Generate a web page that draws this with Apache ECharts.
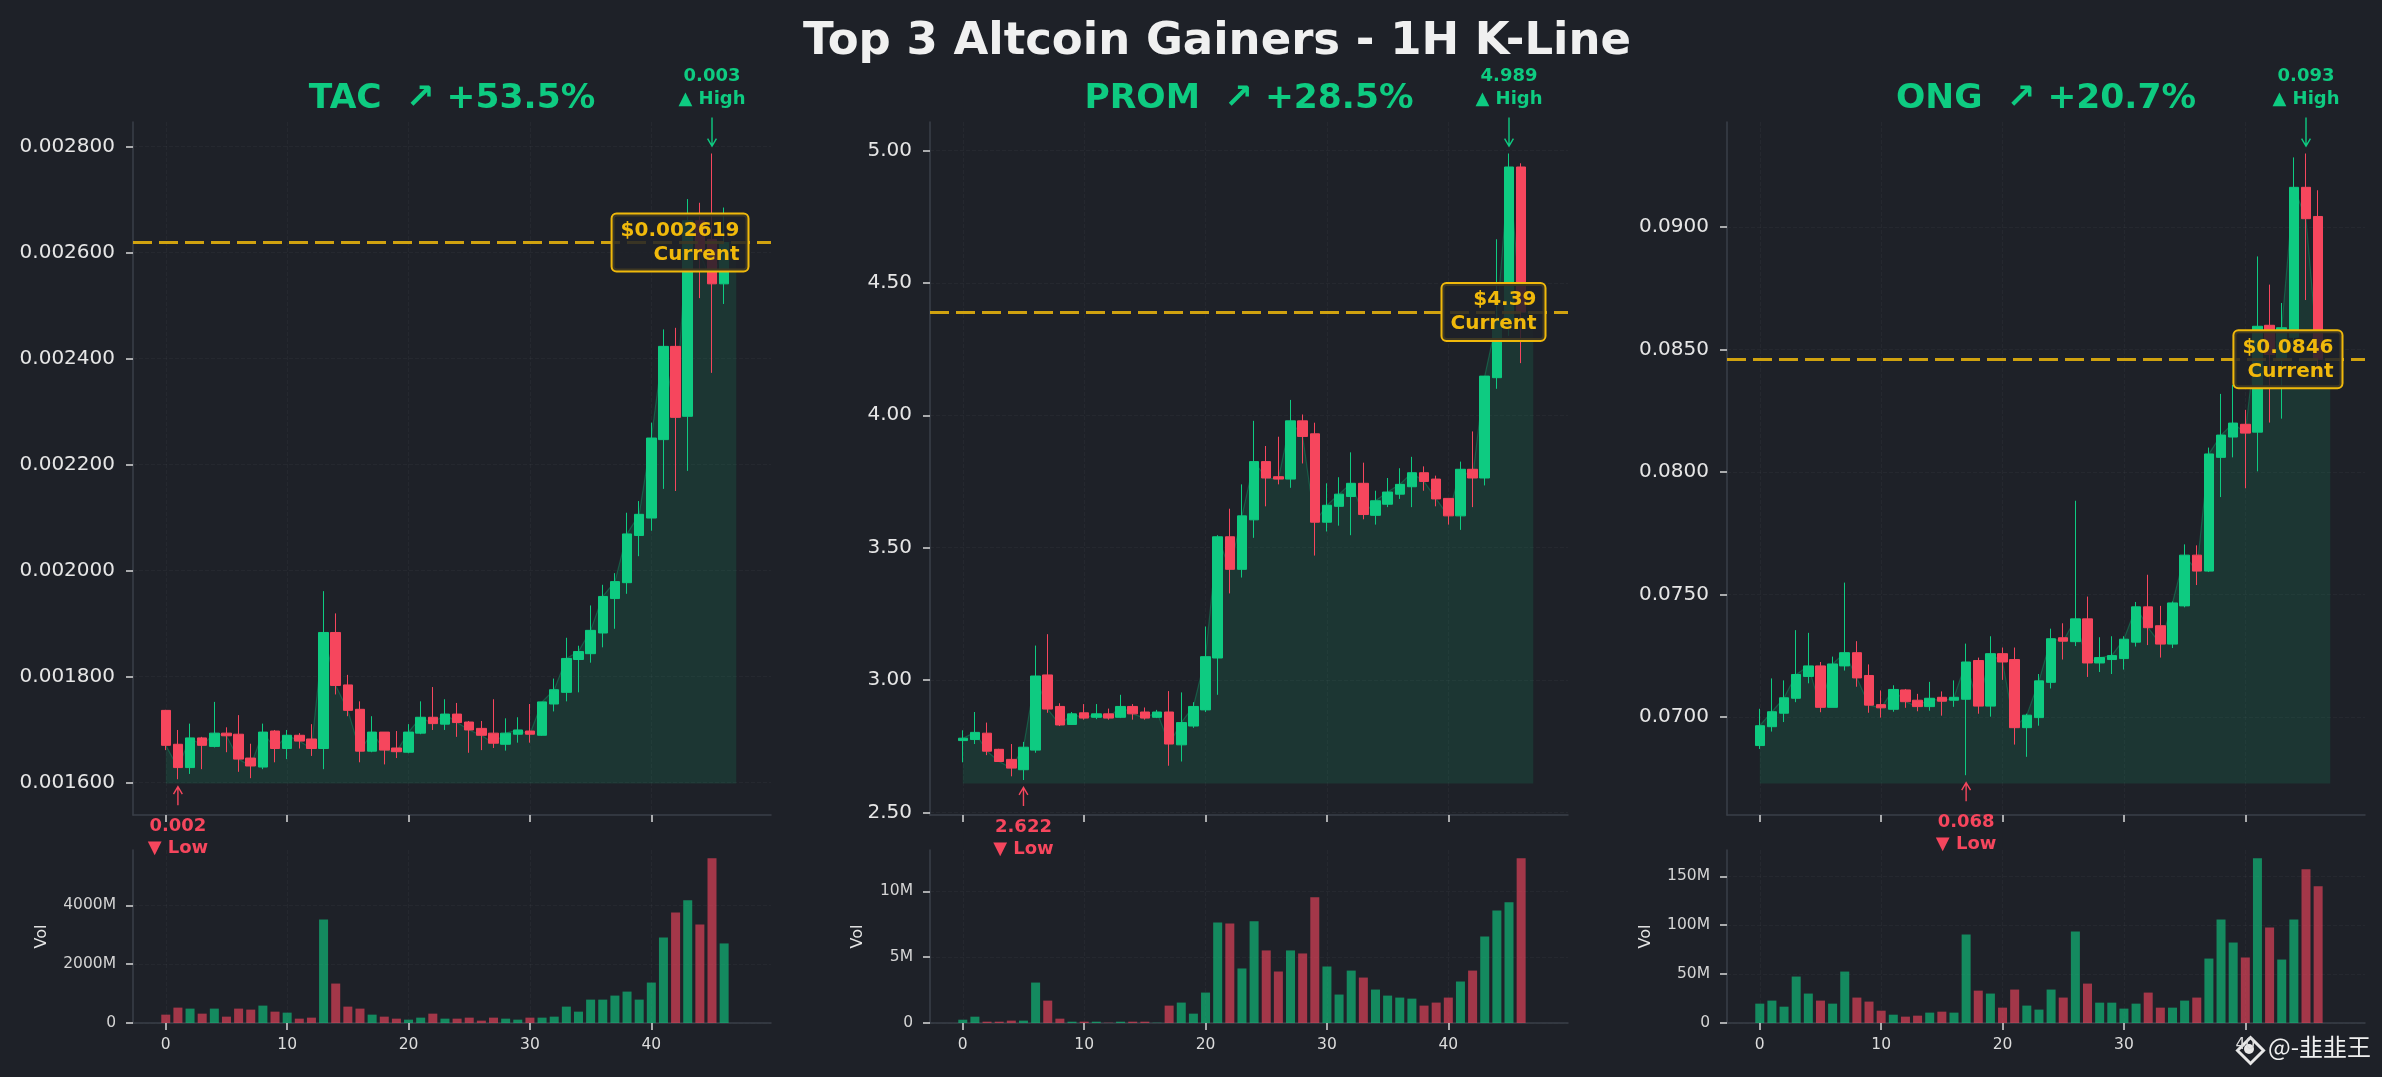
<!DOCTYPE html>
<html><head><meta charset="utf-8">
<script src="https://cdn.jsdelivr.net/npm/echarts@6/dist/echarts.min.js"></script>
<style>html,body{margin:0;padding:0;background:#1e2128;}#c{width:2382px;height:1077px;}</style>
</head><body><div id="c"></div>
<script>
// ---------------- data ----------------
const coinNames = ['TAC', 'PROM', 'ONG'];
const coinChanges = ['+53.5%', '+28.5%', '+20.7%'];
const mainTitle = 'Top 3 Altcoin Gainers - 1H K-Line';
const watermarkText = '@-韭韭王';

const tacOpen  = [0.001736,0.001672,0.001628,0.001684,0.001668,0.001693,0.001691,0.001646,0.001629,0.001697,0.001664,0.001689,0.001682,0.001664,0.001883,0.001784,0.001738,0.001659,0.001695,0.001665,0.001657,0.001693,0.001723,0.001710,0.001729,0.001714,0.001702,0.001693,0.001672,0.001691,0.001697,0.001689,0.001748,0.001770,0.001832,0.001843,0.001882,0.001947,0.001977,0.002066,0.002099,0.002247,0.002423,0.002291,0.002660,0.002625,0.002541];
const tacClose = [0.001670,0.001628,0.001684,0.001670,0.001693,0.001688,0.001644,0.001631,0.001695,0.001664,0.001689,0.001678,0.001664,0.001883,0.001783,0.001736,0.001659,0.001695,0.001661,0.001658,0.001695,0.001723,0.001711,0.001729,0.001713,0.001699,0.001689,0.001674,0.001693,0.001699,0.001691,0.001752,0.001775,0.001834,0.001847,0.001887,0.001951,0.001979,0.002069,0.002106,0.002250,0.002423,0.002289,0.002660,0.002600,0.002541,0.002619];
const tacHigh  = [0.001737,0.001699,0.001711,0.001686,0.001752,0.001704,0.001727,0.001673,0.001711,0.001699,0.001699,0.001693,0.001710,0.001961,0.001919,0.001803,0.001753,0.001725,0.001695,0.001697,0.001710,0.001753,0.001780,0.001757,0.001750,0.001716,0.001716,0.001757,0.001721,0.001723,0.001748,0.001752,0.001796,0.001873,0.001858,0.001934,0.001973,0.001995,0.002109,0.002131,0.002279,0.002455,0.002458,0.002701,0.002694,0.002787,0.002685];
const tacLow   = [0.001661,0.001606,0.001616,0.001625,0.001666,0.001657,0.001620,0.001608,0.001625,0.001638,0.001644,0.001664,0.001650,0.001625,0.001766,0.001725,0.001638,0.001657,0.001634,0.001646,0.001655,0.001691,0.001699,0.001699,0.001686,0.001656,0.001661,0.001665,0.001660,0.001675,0.001675,0.001688,0.001734,0.001753,0.001770,0.001826,0.001855,0.001890,0.001956,0.002027,0.002075,0.002154,0.002150,0.002188,0.002514,0.002373,0.002503];
const tacVol   = [284,523,489,318,489,216,489,455,591,386,352,148,182,3523,1341,557,489,284,216,148,114,182,318,148,148,182,80,182,148,114,182,182,216,557,386,795,795,932,1068,795,1375,2909,3761,4171,3352,5602,2705];

const promOpen  = [2.771,2.775,2.799,2.738,2.700,2.661,2.735,3.019,2.900,2.832,2.876,2.859,2.872,2.859,2.900,2.879,2.859,2.879,2.755,2.826,2.887,3.083,3.541,3.418,3.605,3.825,3.768,3.759,3.979,3.930,3.596,3.656,3.693,3.743,3.622,3.664,3.702,3.730,3.783,3.759,3.686,3.620,3.796,3.763,4.142,4.360,4.938];
const promClose = [2.780,2.802,2.731,2.692,2.667,2.746,3.015,2.890,2.830,2.872,2.856,2.872,2.856,2.900,2.872,2.856,2.879,2.758,2.839,2.900,3.088,3.541,3.418,3.620,3.825,3.763,3.759,3.979,3.920,3.596,3.660,3.702,3.743,3.625,3.677,3.710,3.739,3.783,3.750,3.684,3.620,3.796,3.763,4.148,4.360,4.938,4.390];
const promHigh  = [2.810,2.879,2.839,2.740,2.758,2.766,3.130,3.173,2.912,2.879,2.909,2.909,2.892,2.944,2.909,2.896,2.887,2.958,2.953,2.916,3.202,3.547,3.647,3.739,3.979,3.884,3.919,4.058,4.003,3.972,3.743,3.766,3.860,3.821,3.715,3.763,3.800,3.843,3.807,3.772,3.686,3.825,3.939,4.148,4.665,4.989,4.952];
const promLow   = [2.689,2.758,2.716,2.690,2.636,2.622,2.725,2.876,2.826,2.830,2.850,2.852,2.850,2.856,2.850,2.850,2.856,2.676,2.692,2.819,2.879,2.944,3.327,3.387,3.537,3.656,3.739,3.726,3.818,3.470,3.561,3.583,3.547,3.607,3.587,3.653,3.684,3.653,3.715,3.656,3.587,3.567,3.653,3.735,4.100,4.300,4.197];
const promVol   = [0.25,0.48,0.10,0.10,0.18,0.18,3.07,1.70,0.33,0.10,0.10,0.10,0.02,0.10,0.10,0.10,0.02,1.32,1.55,0.71,2.31,7.64,7.56,4.14,7.72,5.51,3.91,5.51,5.28,9.54,4.29,2.16,3.98,3.45,2.54,2.08,1.93,1.85,1.32,1.55,1.93,3.15,3.98,6.57,8.55,9.16,12.51];

const ongOpen  = [0.06884,0.06961,0.07016,0.07077,0.07166,0.07209,0.07040,0.07209,0.07263,0.07170,0.07051,0.07032,0.07111,0.07069,0.07043,0.07081,0.07069,0.07073,0.07231,0.07045,0.07259,0.07235,0.06957,0.06998,0.07142,0.07324,0.07308,0.07401,0.07221,0.07235,0.07239,0.07306,0.07450,0.07373,0.07298,0.07454,0.07661,0.07596,0.08060,0.08143,0.08195,0.08163,0.08599,0.08460,0.08550,0.09162,0.09043];
const ongClose = [0.06965,0.07022,0.07079,0.07174,0.07209,0.07040,0.07217,0.07263,0.07160,0.07049,0.07038,0.07113,0.07063,0.07043,0.07077,0.07065,0.07081,0.07225,0.07045,0.07259,0.07225,0.06957,0.07008,0.07148,0.07320,0.07310,0.07401,0.07221,0.07243,0.07251,0.07318,0.07450,0.07365,0.07298,0.07466,0.07661,0.07596,0.08074,0.08151,0.08200,0.08159,0.08595,0.08480,0.08589,0.09162,0.09034,0.08460];
const ongHigh  = [0.07034,0.07158,0.07150,0.07355,0.07344,0.07225,0.07247,0.07549,0.07310,0.07215,0.07109,0.07130,0.07115,0.07095,0.07144,0.07105,0.07150,0.07300,0.07243,0.07330,0.07284,0.07284,0.07014,0.07176,0.07361,0.07383,0.07883,0.07492,0.07326,0.07330,0.07330,0.07470,0.07581,0.07454,0.07472,0.07705,0.07701,0.08100,0.08319,0.08356,0.08254,0.08880,0.08765,0.08690,0.09284,0.09300,0.09150];
const ongLow   = [0.06870,0.06941,0.06980,0.07061,0.07138,0.07020,0.07040,0.07190,0.07124,0.07018,0.06998,0.07022,0.07038,0.07024,0.07026,0.07006,0.07042,0.06763,0.07014,0.07002,0.07152,0.06888,0.06838,0.06965,0.07117,0.07235,0.07290,0.07164,0.07184,0.07176,0.07194,0.07288,0.07294,0.07243,0.07282,0.07448,0.07539,0.07592,0.07898,0.08060,0.07934,0.08003,0.08202,0.08218,0.08500,0.08702,0.08380];
const ongVol   = [19.8,22.9,16.7,47.5,30.1,22.9,19.8,52.6,26.0,21.9,12.6,8.5,6.5,7.5,10.6,11.6,10.6,90.5,33.1,30.1,15.7,34.2,17.8,13.7,34.2,26.0,93.6,40.3,20.8,20.8,14.7,19.8,31.1,15.7,15.7,22.9,26.0,65.9,105.9,82.3,67.0,168.5,97.7,64.9,105.9,157.2,139.8];

const xTicks = [0, 10, 20, 30, 40];
const tacTicks  = [0.0016, 0.0018, 0.0020, 0.0022, 0.0024, 0.0026, 0.0028];
const promTicks = [2.5, 3.0, 3.5, 4.0, 4.5, 5.0];
const ongTicks  = [0.070, 0.075, 0.080, 0.085, 0.090];
const tickDecimals = [6, 2, 4];
const tacVolTicks  = [0, 2000, 4000];
const promVolTicks = [0, 5, 10];
const ongVolTicks  = [0, 50, 100, 150];

// ---------------- style / layout ----------------
const GREEN = '#0ecb81', RED = '#f6465d', GOLD = '#f0b90b';
const GREEN_A = 'rgba(14,203,129,0.62)', RED_A = 'rgba(246,70,93,0.62)';
const BG = '#1e2128';
const AXIS = '#3a3f48';
const TICK = '#d9d9d9';
const FONT = "'DejaVu Sans', sans-serif";
const X_MIN = -2.7, X_MAX = 49.86;
const GRID_LEFT = [133, 930, 1727];
const GRID_W = 638;
const MAIN_TOP = 122, MAIN_H = 693, VOL_TOP = 850, VOL_H = 173;
const VOL_NAME_GAP = [83, 64, 73];

const ARROW_DOWN = 'path://M4.3 0 L5.7 0 L5.7 28.5 L4.3 28.5 Z M5 30 L0 21.5 L1.2 20.8 L5 27.3 L8.8 20.8 L10 21.5 Z';
const ARROW_UP = 'path://M4.3 1.5 L5.7 1.5 L5.7 20 L4.3 20 Z M5 0 L10 8.5 L8.8 9.2 L5 2.7 L1.2 9.2 L0 8.5 Z';

const coins = [
  {name: coinNames[0], change: coinChanges[0], open: tacOpen, close: tacClose, high: tacHigh, low: tacLow, vol: tacVol, ticks: tacTicks, volTicks: tacVolTicks, dec: tickDecimals[0]},
  {name: coinNames[1], change: coinChanges[1], open: promOpen, close: promClose, high: promHigh, low: promLow, vol: promVol, ticks: promTicks, volTicks: promVolTicks, dec: tickDecimals[1]},
  {name: coinNames[2], change: coinChanges[2], open: ongOpen, close: ongClose, high: ongHigh, low: ongLow, vol: ongVol, ticks: ongTicks, volTicks: ongVolTicks, dec: tickDecimals[2]}
];

const titles = [{
  text: mainTitle, left: 1212, textAlign: 'center', top: 11,
  textStyle: {color: '#f0f0f0', fontSize: 45, fontWeight: 'bold', fontFamily: FONT, lineHeight: 52}
}];
const mainGrids = [], volGrids = [], mainX = [], volX = [], mainY = [], volY = [], series = [];

function axisBase(extra) {
  return Object.assign({
    type: 'value',
    axisLine: {show: true, onZero: false, lineStyle: {color: AXIS, width: 1.5}},
    axisTick: {show: true, length: 7, lineStyle: {color: TICK, width: 1.5}},
    splitLine: {show: true, lineStyle: {color: 'rgba(255,255,255,0.035)', type: 'dashed', width: 1}}
  }, extra);
}

coins.forEach((c, i) => {
  const left = GRID_LEFT[i];
  const n = c.close.length;
  const hi = Math.max(...c.high), lo = Math.min(...c.low);
  const hiIdx = c.high.indexOf(hi), loIdx = c.low.indexOf(lo);
  const base = lo * 0.995;
  const pad = (hi - base) * 0.05;
  const cur = c.close[n - 1];
  const step = c.ticks[1] - c.ticks[0];
  const volStep = c.volTicks[1] - c.volTicks[0];

  titles.push({
    text: c.name + '  \u2197 ' + c.change,
    left: left + GRID_W / 2 - 5, textAlign: 'center', top: 74,
    textStyle: {color: GREEN, fontSize: 34.5, fontWeight: 'bold', fontFamily: FONT, lineHeight: 40}
  });

  mainGrids.push({left: left, top: MAIN_TOP, width: GRID_W, height: MAIN_H});
  volGrids.push({left: left, top: VOL_TOP, width: GRID_W, height: VOL_H});

  mainX.push(axisBase({
    gridIndex: i, min: X_MIN, max: X_MAX, minInterval: 10, maxInterval: 10,
    axisTick: {show: true, length: 7, lineStyle: {color: TICK, width: 1.5}, customValues: xTicks},
    axisLabel: {show: false}
  }));
  volX.push(axisBase({
    gridIndex: 3 + i, min: X_MIN, max: X_MAX, minInterval: 10, maxInterval: 10,
    axisTick: {show: true, length: 7, lineStyle: {color: TICK, width: 1.5}, customValues: xTicks},
    axisLabel: {show: true, customValues: xTicks, color: '#dcdcdc', fontSize: 15.5, fontFamily: FONT, margin: 14}
  }));
  mainY.push(axisBase({
    gridIndex: i, min: base - pad, max: hi + pad, minInterval: step, maxInterval: step,
    axisTick: {show: true, length: 7, lineStyle: {color: TICK, width: 1.5}, customValues: c.ticks},
    axisLabel: {show: true, customValues: c.ticks, formatter: v => Number(v).toFixed(c.dec),
      color: '#e6e6e6', fontSize: 20, fontFamily: FONT, margin: 18}
  }));
  volY.push(axisBase({
    gridIndex: 3 + i, min: 0, max: Math.max(...c.vol) * 1.05, minInterval: volStep, maxInterval: volStep,
    name: 'Vol', nameLocation: 'middle', nameGap: VOL_NAME_GAP[i],
    nameTextStyle: {color: '#e6e6e6', fontSize: 16, fontFamily: FONT},
    axisTick: {show: true, length: 7, lineStyle: {color: TICK, width: 1.5}, customValues: c.volTicks},
    axisLabel: {show: true, customValues: c.volTicks, formatter: v => (v === 0 ? '0' : v + 'M'),
      color: '#d4d4d4', fontSize: 15.5, fontFamily: FONT, margin: 17}
  }));

  // close-price area
  series.push({
    type: 'line', xAxisIndex: i, yAxisIndex: i, silent: true, z: 1,
    data: c.close.map((v, k) => [k, v]).concat([[n, cur]]),
    symbol: 'none',
    lineStyle: {color: GREEN, width: 1.2, opacity: 0.3},
    areaStyle: {color: GREEN, opacity: 0.13, origin: base}
  });

  // candles
  series.push({
    type: 'candlestick', xAxisIndex: i, yAxisIndex: i, z: 3, clip: false,
    data: c.open.map((o, k) => [k, o, c.close[k], c.low[k], c.high[k]]),
    barWidth: 10,
    itemStyle: {color: GREEN, color0: RED, borderColor: GREEN, borderColor0: RED, borderWidth: 1},
    markLine: {
      silent: true, symbol: ['none', 'none'], animation: false, precision: 8,
      label: {show: false},
      lineStyle: {color: GOLD, type: [19, 7], width: 3, opacity: 0.85},
      data: [{yAxis: cur}]
    },
    markPoint: {
      silent: true, animation: false,
      data: [
        {
          coord: [hiIdx, hi], symbol: ARROW_DOWN, symbolSize: [10, 30], symbolOffset: [0, -21],
          itemStyle: {color: GREEN},
          label: {show: true, position: 'top', distance: 7, formatter: hi.toFixed(3) + '\n\u25B2 High',
            color: GREEN, fontWeight: 'bold', fontSize: 18, lineHeight: 23, fontFamily: FONT}
        },
        {
          coord: [loIdx, lo], symbol: ARROW_UP, symbolSize: [10, 20], symbolOffset: [0, 16],
          itemStyle: {color: RED},
          label: {show: true, position: 'bottom', distance: 10, formatter: lo.toFixed(3) + '\n\u25BC Low',
            color: RED, fontWeight: 'bold', fontSize: 18, lineHeight: 22, fontFamily: FONT}
        },
        {
          coord: [X_MAX, cur], symbol: 'circle', symbolSize: 1, itemStyle: {color: 'rgba(0,0,0,0)'},
          label: {show: true, position: 'left', distance: 23, formatter: '$' + cur + '\nCurrent',
            color: GOLD, fontWeight: 'bold', fontSize: 20, lineHeight: 24, fontFamily: FONT, align: 'right',
            backgroundColor: 'rgba(30,33,40,0.85)', borderColor: GOLD, borderWidth: 2, borderRadius: 4,
            padding: [4, 8]}
        }
      ]
    }
  });

  // volume
  series.push({
    type: 'bar', xAxisIndex: 3 + i, yAxisIndex: 3 + i, barWidth: 9, z: 2,
    data: c.vol.map((v, k) => ({value: [k, v], itemStyle: {color: c.close[k] >= c.open[k] ? GREEN_A : RED_A}}))
  });
});

const option = {
  backgroundColor: BG,
  animation: false,
  title: titles,
  grid: mainGrids.concat(volGrids),
  xAxis: mainX.concat(volX),
  yAxis: mainY.concat(volY),
  series: series,
  graphic: [
    {type: 'polygon', left: 2236, top: 1036, shape: {points: [[13, 0], [26, 13], [13, 26], [0, 13]]},
      style: {fill: 'rgba(0,0,0,0)', stroke: '#e8e8e8', lineWidth: 3}},
    {type: 'circle', left: 2244, top: 1044, shape: {r: 5}, style: {fill: '#e8e8e8'}},
    {type: 'text', left: 2268, top: 1035,
      style: {text: watermarkText, fill: '#eeeeee', font: '24px "Noto Sans CJK SC", "DejaVu Sans"'}}
  ]
};

const chart = echarts.init(document.getElementById('c'), null, {renderer: 'canvas'});
chart.setOption(option);
</script>
</body></html>
